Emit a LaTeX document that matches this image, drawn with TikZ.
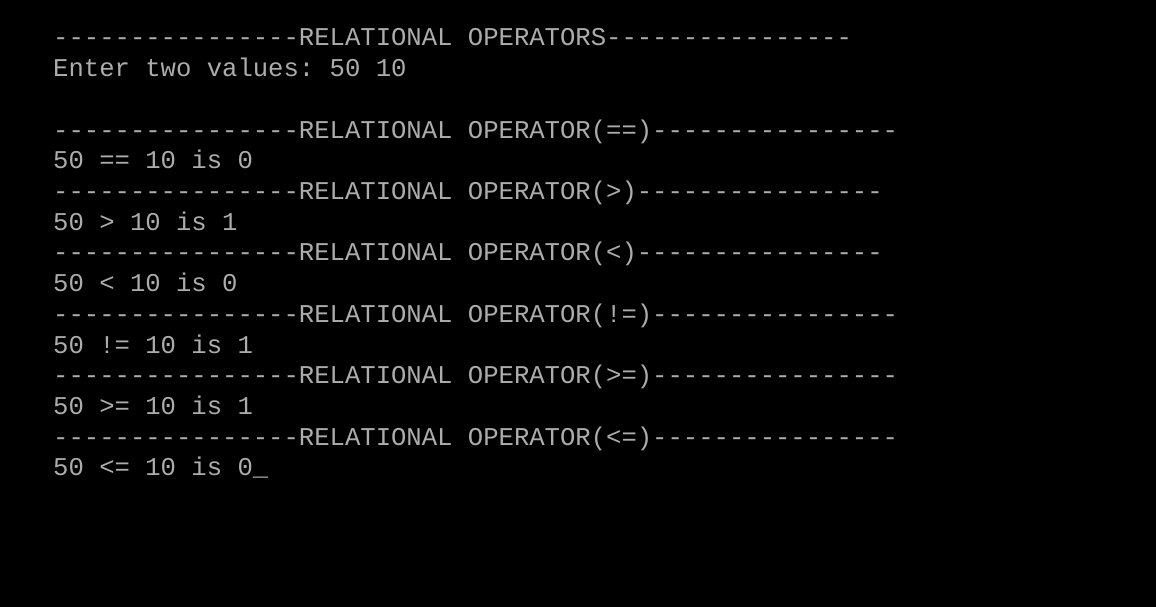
\documentclass[tikz,border=0pt]{standalone}
\usepackage{fontspec}
\setmonofont{Liberation Mono}
\usetikzlibrary{positioning}
\definecolor{termgrey}{RGB}{172,172,172}
\tikzset{
  termline/.style={anchor=base west, inner sep=0pt, text=termgrey,
    font=\ttfamily\fontsize{25.6pt}{30pt}\selectfont}
}
\begin{document}
\begin{tikzpicture}[x=1pt, y=1pt]
  \fill[black] (0,0) rectangle (1156,-607);
  \useasboundingbox (0,0) rectangle (1156,-607);
  % terminal output, one node per line
  \foreach \txt [count=\k from 0] in {
      {----------------RELATIONAL OPERATORS----------------},
      {Enter two values: 50 10},
      {},
      {----------------RELATIONAL OPERATOR(==)----------------},
      {50 == 10 is 0},
      {----------------RELATIONAL OPERATOR(>)----------------},
      {50 > 10 is 1},
      {----------------RELATIONAL OPERATOR(<)----------------},
      {50 < 10 is 0},
      {----------------RELATIONAL OPERATOR(!=)----------------},
      {50 != 10 is 1},
      {----------------RELATIONAL OPERATOR(>=)----------------},
      {50 >= 10 is 1},
      {----------------RELATIONAL OPERATOR(<=)----------------},
      {50 <= 10 is 0\_}}
    \node[termline] (line\k) at (53, -46-30.7*\k) {\txt};
\end{tikzpicture}
\end{document}
